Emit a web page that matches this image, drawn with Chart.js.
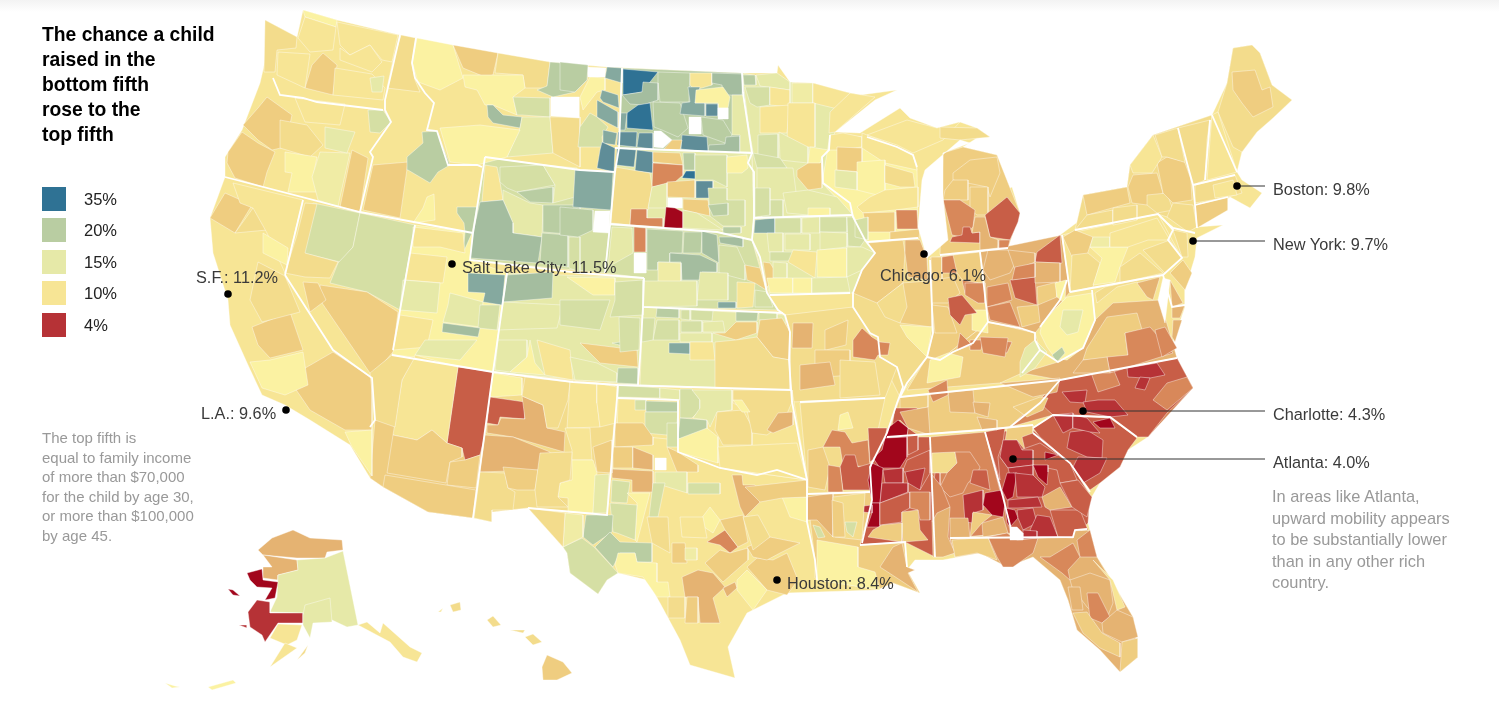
<!DOCTYPE html>
<html>
<head>
<meta charset="utf-8">
<title>The chance a child raised in the bottom fifth rose to the top fifth</title>
<script src="https://cdn.jsdelivr.net/npm/chart.js@4"></script>
<style>
html, body { margin: 0; padding: 0; background: #fff; }
#page { position: relative; width: 1499px; height: 728px; overflow: hidden; font-family: "Liberation Sans", Arial, sans-serif; }
#topband { position: absolute; left: 0; top: 0; width: 100%; height: 12px; background: linear-gradient(#f3f3f3, #fff); }
canvas { position: absolute; left: 0; top: 0; }
#title { position: absolute; left: 42px; top: 22px; font-weight: bold; font-size: 19.3px; line-height: 25px; color: #000; white-space: pre; }
.swatch { position: absolute; left: 42px; width: 24px; height: 24px; }
.legendLabel { position: absolute; left: 84px; font-size: 16.5px; color: #222; line-height: 24px; }
.city { position: absolute; font-size: 16.3px; color: #3a3a3a; line-height: 20px; white-space: pre; }
.note { position: absolute; color: #999; white-space: pre; }
#noteLeft { left: 42px; top: 428px; font-size: 15px; line-height: 19.6px; }
#noteRight { left: 1272px; top: 486px; font-size: 16.4px; line-height: 21.5px; }
</style>
</head>
<body>
<div id="page">
<div id="topband"></div>
<canvas id="map" width="1499" height="728"></canvas>
<div id="title">The chance a child
raised in the
bottom fifth
rose to the
top fifth</div>
<div id="noteLeft" class="note">The top fifth is
equal to family income
of more than $70,000
for the child by age 30,
or more than $100,000
by age 45.</div>
<div id="noteRight" class="note">In areas like Atlanta,
upward mobility appears
to be substantially lower
than in any other rich
country.</div>
</div>
<script>
// legend
var legendLevels = [35, 20, 15, 10, 4];
var legendTops = [187, 218, 250, 281, 313];

// cities: name, value, dot position, label position
var cityNames = ['Boston', 'New York', 'Charlotte', 'Atlanta', 'Houston', 'Chicago', 'Salt Lake City', 'S.F.', 'L.A.'];
var cityValues = ['9.8', '9.7', '4.3', '4.0', '8.4', '6.1', '11.5', '11.2', '9.6'];
var cityX = [1237, 1193, 1083, 1013, 777, 924, 452, 228, 286];
var cityY = [186, 241, 411, 459, 580, 254, 264, 294, 410];
var labelX = [1273, 1273, 1273, 1273, 787, 880, 462, 196, 201];
var labelY = [193, 248, 418, 466, 587, 279, 271, 281, 417];
var leaderEnd = [1265, 1265, 1265, 1265, null, null, null, null, null];

// estimated percent -> colour, 0 is no data
var levels = [0, 3, 4, 5, 6, 7, 8, 9, 10, 12, 13, 15, 17, 20, 22, 25, 28, 35];
var levelColors = ['#ffffff', '#a2061c', '#b63236', '#c85e47', '#d8885a', '#e5b372', '#efcd80', '#f3dc8c', '#f7e595',
    '#fbf2a2', '#f0eca5', '#e6e9a8', '#d5dfa4', '#b9cda2', '#a4bd9f', '#85a99f', '#5f8d98', '#2f7294'];

// outline of the lower 48
var land = [10, '303,10 337,20 400,35 453,47 550,62 607,67 740,73 777,73 778,65 790,82 813,83 837,90 860,95 897,90 875,100 835,132 860,133 900,108 910,118 937,128 960,122 977,128 990,137 977,138 963,147 997,155 1000,173 990,197 1012,187 1020,213 1012,230 1008,247 1023,253 1037,252 1060,235 1087,215 1083,195 1127,187 1130,165 1153,135 1212,115 1227,83 1233,48 1252,45 1260,53 1272,85 1292,100 1273,118 1257,132 1242,152 1237,172 1242,180 1262,193 1250,208 1230,197 1197,227 1223,225 1197,238 1195,257 1185,290 1185,307 1173,342 1177,360 1193,388 1167,413 1148,437 1128,450 1120,467 1100,483 1090,500 1088,523 1097,557 1110,577 1133,617 1138,657 1120,672 1100,650 1077,630 1068,600 1060,580 1033,557 1007,567 980,553 943,560 915,560 907,570 920,593 893,583 877,590 787,593 747,613 728,647 735,678 690,665 680,640 660,603 647,580 618,573 607,580 598,594 570,573 567,553 563,547 528,508 492,512 492,522 473,518 428,512 383,487 370,478 350,445 310,420 285,405 262,395 248,365 230,325 228,300 213,253 210,218 225,177 225,157 242,130 260,83 263,70 267,50 265,20 297,37'];

// state sized underlays so the zones sit on the right tone
var baseZones = [
    [20, '622,68 742,73 752,153 618,148'],
    [15, '618,148 752,153 754,217 752,240 717,232 610,224 615,172'],
    [17, '610,225 717,232 752,240 767,293 778,310 643,307 644,278 605,273'],
    [15, '643,307 785,315 790,332 792,390 640,385'],
    [17, '485,157 580,170 615,172 605,273 470,260'],
    [15, '507,273 644,278 640,358 638,385 493,372'],
    [15, '742,73 860,95 835,132 829,150 822,183 853,215 754,217 752,153'],
    [15, '754,217 853,215 875,253 853,293 770,295 752,240'],
    [12, '830,135 867,137 917,167 918,238 867,242 853,215 822,183'],
    [9, '867,242 918,238 927,258 933,333 927,357 900,397 880,357 853,307 853,293 875,253'],
    [8, '943,153 963,147 997,155 1020,213 1008,248 940,255'],
    [8, '930,258 980,252 988,322 940,360 927,357 933,333'],
    [7, '980,252 1062,235 1070,292 1040,327 1035,333 988,322'],
    [8, '927,357 940,360 988,322 1035,333 1040,350 1022,373 1000,383 907,390'],
    [8, '900,397 1060,380 1010,427 887,437'],
    [6, '1060,380 1177,358 1193,388 1148,437 1110,417 1053,415 1010,427'],
    [7, '1022,373 1058,362 1083,348 1095,320 1113,303 1160,300 1177,358 1060,380'],
    [5, '887,437 930,437 935,557 905,542 860,545 872,500 870,467'],
    [6, '930,437 985,432 1012,533 950,538 955,553 935,557'],
    [5, '985,432 1033,430 1070,463 1090,495 1088,523 1075,537 1012,538'],
    [7, '950,538 1088,530 1097,557 1133,617 1138,657 1120,672 1100,650 1077,630 1068,600 1060,580 1033,557 1007,567 980,553 955,557'],
    [9, '800,403 885,398 870,467 870,492 807,494 807,480'],
    [8, '807,494 870,492 872,500 860,545 905,542 907,570 920,593 893,583 877,590 815,578 815,560'],
    [9, '785,315 853,307 870,333 880,357 897,367 885,398 792,402'],
    [10, '618,385 792,390 807,480 720,468 678,452 678,400 618,397'],
    [9, '1083,195 1127,187 1130,165 1153,135 1212,115 1197,227 1158,214 1075,230'],
    [10, '1062,235 1158,214 1182,258 1163,275 1070,292'],
    [9, '493,372 617,385 607,515 528,508 492,512 473,518'],
    [8, '392,355 493,372 473,518 428,512 383,487 370,478 375,420'],
    [12, '415,225 473,233 470,260 507,273 493,372 392,355']
];

var westZones = [
    [12, '303,10 337,20 336,27 305,17'],
    [9, '265,20 297,37 296,48 277,50 275,72 264,72'],
    [10, '305,17 336,27 333,50 310,52 298,38'],
    [10, '337,22 398,35 392,62 382,60 370,45 350,55 340,45'],
    [10, '340,48 350,55 370,45 382,62 372,72 340,60'],
    [8, '323,53 337,65 333,95 305,88 312,65'],
    [10, '278,52 310,54 305,88 277,75'],
    [10, '335,68 372,74 385,88 383,100 333,95'],
    [15, '370,78 384,76 382,92 372,92'],
    [8, '267,97 292,115 285,147 272,150 258,140 243,125 258,108'],
    [8, '242,132 258,143 275,152 267,172 263,187 235,178 227,163 228,152'],
    [9, '280,120 307,125 323,145 310,157 280,148'],
    [10, '295,98 345,104 340,125 305,122'],
    [12, '285,152 317,157 313,177 320,192 288,192 292,173 285,172'],
    [13, '320,152 350,153 340,197 338,207 318,200 312,177'],
    [15, '325,127 355,132 347,153 325,148'],
    [8, '352,150 368,158 360,212 340,207'],
    [17, '368,110 383,110 391,122 380,133 370,132'],
    [9, '401,35 416,38 412,63 415,80 420,92 387,88 393,60'],
    [8, '373,165 408,162 400,218 363,210'],
    [20, '422,132 437,131 450,165 438,172 430,183 408,170 407,157 423,143'],
    [12, '427,197 434,194 435,220 413,223 423,208'],
    [12, '417,38 453,45 463,78 440,90 418,82 412,62'],
    [8, '453,45 498,53 493,75 485,77 463,68'],
    [9, '498,53 550,62 547,88 525,88 523,75 495,73'],
    [20, '550,62 588,65 587,80 575,92 553,97 537,90 547,86'],
    [12, '463,75 523,75 525,88 513,97 517,115 493,105 485,105 477,90 465,87'],
    [22, '487,105 493,105 503,115 522,117 520,128 493,123 488,117'],
    [17, '513,97 550,98 550,117 522,115 517,115'],
    [15, '522,117 550,117 553,153 507,157 520,128'],
    [12, '440,128 480,125 520,130 507,157 477,165 450,162'],
    [9, '550,117 580,117 580,167 553,153'],
    [0, '551,97 579,97 579,118 551,116'],
    [0, '587,67 606,68 605,77 588,77'],
    [10, '485,165 497,167 500,182 503,200 482,202'],
    [17, '500,167 543,165 555,185 517,192 507,188 500,182'],
    [20, '517,192 553,187 553,203 530,202'],
    [15, '543,165 577,168 575,197 553,203 555,185'],
    [15, '503,190 530,203 543,205 542,237 513,233 513,223 503,200'],
    [22, '480,202 503,200 513,223 513,233 542,237 538,263 470,258 473,233'],
    [20, '543,205 580,205 580,235 543,232'],
    [20, '542,233 568,235 568,267 540,263'],
    [17, '569,237 580,237 580,272 569,268'],
    [20, '457,207 477,207 472,233 463,253 465,233 464,223 457,213'],
    [17, '313,203 360,213 353,247 340,262 303,253 308,235'],
    [17, '360,213 415,225 400,310 367,292 330,283 338,263 353,247'],
    [9, '305,203 317,204 305,253 338,262 330,278 305,277 285,273 297,235'],
    [8, '320,285 367,292 398,312 393,352 372,376 335,322 320,300'],
    [8, '303,282 318,283 326,300 310,312'],
    [8, '225,193 252,205 235,233 210,218'],
    [9, '253,208 273,210 267,230 235,233'],
    [10, '233,183 303,200 285,273 267,233 253,208 240,203'],
    [12, '263,233 288,248 287,265 263,253'],
    [8, '252,327 290,312 303,350 270,358 258,345'],
    [9, '258,262 285,276 300,312 262,322 250,300'],
    [8, '288,378 333,352 372,378 372,430 345,430 310,410'],
    [12, '345,432 372,430 372,476 352,447'],
    [12, '250,362 270,360 303,352 308,385 285,395 262,388'],
    [10, '413,227 463,233 465,253 440,247 413,247'],
    [10, '410,253 447,257 443,283 405,280'],
    [15, '450,293 483,302 480,327 443,322 448,305'],
    [15, '403,280 440,283 437,313 400,310'],
    [10, '400,315 433,320 427,347 393,350'],
    [25, '468,273 505,275 502,305 483,302 485,293 468,292'],
    [22, '507,275 553,272 552,298 503,302'],
    [15, '503,302 563,305 557,328 497,330'],
    [17, '480,305 500,305 497,330 478,328'],
    [22, '443,323 480,328 478,337 442,332'],
    [15, '425,340 477,340 460,360 415,355'],
    [15, '498,340 527,340 527,357 510,372 495,370'],
    [12, '530,340 535,363 545,375 510,372 527,357'],
    [10, '537,340 570,350 573,380 545,375'],
    [8, '580,343 637,350 638,367 600,363'],
    [15, '570,357 597,363 617,373 617,382 575,380'],
    [20, '618,368 638,368 638,384 617,383'],
    [20, '612,343 638,340 638,350'],
    [12, '567,277 615,278 615,295 593,295 590,293'],
    [17, '615,282 643,280 643,315 610,317 615,300'],
    [17, '560,300 610,300 600,330 560,325']
];

var plainsZones = [
    [12, '590,77 605,78 605,90 597,92 583,110 580,97'],
    [20, '560,62 588,65 587,80 575,92 560,90'],
    [25, '607,67 622,68 622,83 605,78'],
    [35, '623,69 658,72 650,82 642,92 623,95'],
    [20, '658,72 690,73 689,102 660,102 658,83'],
    [10, '690,73 712,73 712,85 695,90 690,85'],
    [22, '712,73 743,74 742,95 723,95 722,85 712,83'],
    [22, '622,95 642,92 643,82 658,83 658,100 643,105 630,104'],
    [25, '602,90 618,95 619,108 603,102 600,98'],
    [25, '597,100 618,112 618,128 608,123 597,117'],
    [17, '590,113 597,117 608,127 602,137 603,147 578,147 580,127'],
    [35, '627,113 638,105 650,103 653,130 627,128'],
    [25, '620,113 627,113 625,130 619,130'],
    [28, '618,132 637,132 636,147 617,145'],
    [28, '639,133 653,133 653,149 637,147'],
    [25, '603,130 617,133 615,145 603,143'],
    [28, '602,142 615,148 614,172 597,168 600,150'],
    [28, '617,148 636,150 634,167 616,165'],
    [28, '637,150 653,152 653,173 635,171'],
    [20, '653,102 680,103 688,128 678,137 662,130 654,127'],
    [25, '688,87 700,87 695,103 705,103 705,116 680,114 682,103 690,102'],
    [12, '696,90 723,87 730,97 728,108 718,108 718,103 695,103'],
    [28, '706,104 718,104 718,116 706,116'],
    [0, '718,108 728,108 728,119 718,119'],
    [0, '689,117 701,117 701,134 689,134'],
    [20, '701,117 723,120 732,135 725,143 703,135'],
    [22, '726,137 740,136 740,153 708,152 709,145 725,144'],
    [15, '732,95 743,95 753,152 740,152 740,135 732,135'],
    [28, '682,135 707,137 708,152 681,149'],
    [0, '654,131 661,131 672,140 663,148 654,147'],
    [8, '672,140 682,140 680,150 663,150'],
    [8, '653,152 680,153 683,165 653,162'],
    [6, '653,163 683,165 683,175 675,182 652,187'],
    [35, '686,171 697,171 697,179 682,178'],
    [20, '683,153 695,153 695,170 684,170'],
    [17, '695,155 727,155 727,187 713,180 695,180'],
    [28, '696,181 713,181 713,198 696,198'],
    [12, '727,157 747,155 748,168 742,173 727,173'],
    [8, '667,182 695,180 695,198 667,197'],
    [9, '615,167 650,173 652,187 648,210 631,210 630,225 611,223'],
    [15, '652,187 667,183 667,208 648,208'],
    [0, '668,198 682,198 682,208 668,208'],
    [6, '631,209 647,209 647,218 663,218 663,227 630,225'],
    [3, '666,207 675,208 683,212 683,228 664,228'],
    [8, '683,199 708,200 710,216 697,213 683,210'],
    [15, '683,210 697,213 723,230 683,228'],
    [17, '708,188 727,188 727,200 745,200 745,226 723,226 710,216'],
    [20, '708,205 728,203 728,215 713,216'],
    [25, '575,170 613,172 611,210 573,207'],
    [20, '560,207 593,210 593,230 578,237 560,235'],
    [0, '595,211 610,211 609,233 593,232'],
    [15, '612,227 632,228 633,253 608,267'],
    [6, '634,227 646,228 646,252 634,252'],
    [0, '634,253 646,253 646,273 634,273'],
    [20, '647,229 683,231 682,253 670,253 670,262 658,262 658,270 647,270'],
    [20, '684,232 702,232 701,253 683,253'],
    [22, '702,231 717,235 719,263 702,253'],
    [22, '670,253 700,255 717,263 717,272 702,272 700,280 682,280 681,262 670,262'],
    [22, '719,237 743,237 743,247 720,243'],
    [20, '723,227 741,227 741,233 723,234'],
    [17, '719,245 737,247 745,265 745,280 719,273'],
    [13, '658,262 681,263 681,283 658,288'],
    [15, '700,272 728,273 728,300 697,300'],
    [10, '737,282 755,283 753,307 737,308'],
    [8, '745,265 760,268 766,290 755,283 747,280'],
    [8, '763,262 770,263 779,277 767,287'],
    [25, '718,302 736,302 736,308 718,308'],
    [17, '755,290 768,292 773,307 755,307'],
    [15, '643,281 697,281 697,306 643,307'],
    [20, '657,308 679,309 679,318 656,317'],
    [17, '657,320 679,320 679,340 653,340'],
    [17, '681,310 690,310 690,320 681,319'],
    [17, '691,310 713,311 712,321 691,320'],
    [17, '681,321 702,321 702,332 681,332'],
    [15, '703,322 723,321 725,332 703,332'],
    [15, '680,333 712,333 712,342 680,342'],
    [20, '736,312 758,312 757,321 736,321'],
    [17, '759,312 777,312 777,320 759,320'],
    [25, '669,343 690,343 690,354 669,353'],
    [17, '619,317 640,318 639,350 620,352'],
    [17, '642,318 655,318 653,340 642,342'],
    [10, '690,342 713,342 715,360 690,360'],
    [8, '736,322 757,322 757,333 736,340 713,333 725,333'],
    [8, '760,320 782,318 790,332 790,360 773,357 757,337'],
    [9, '715,342 736,340 757,337 773,357 790,360 790,390 715,388'],
    [7, '793,323 813,323 812,348 792,348'],
    [8, '825,330 848,320 846,345 826,350'],
    [8, '815,350 850,350 850,375 815,378'],
    [6, '853,340 862,328 872,337 880,342 890,343 888,355 878,355 875,360 853,357']
];

var midwestZones = [
    [20, '743,75 755,75 756,85 744,85'],
    [15, '756,75 777,73 790,82 790,90 760,86'],
    [17, '745,87 770,87 770,105 757,107 750,103'],
    [10, '770,87 790,90 790,107 770,105'],
    [10, '760,107 790,105 787,133 760,133'],
    [13, '792,83 813,83 813,103 792,103'],
    [10, '813,83 850,93 850,112 813,103'],
    [10, '850,93 875,97 835,132 829,133 830,112'],
    [10, '788,103 815,103 815,147 787,147'],
    [17, '758,135 778,134 778,163 758,163'],
    [15, '779,132 808,147 808,163 780,160'],
    [17, '753,153 780,158 787,168 757,168'],
    [15, '757,168 793,168 797,200 757,200'],
    [17, '762,200 783,200 783,217 762,217'],
    [17, '755,188 770,188 770,215 755,217'],
    [8, '797,170 813,160 822,163 822,188 808,190 797,177'],
    [12, '810,147 829,150 822,157 820,163 808,163'],
    [15, '783,193 808,190 837,197 853,215 808,215 787,213'],
    [12, '808,208 830,208 830,216 808,216'],
    [25, '755,220 775,218 775,233 754,233'],
    [17, '775,218 801,218 801,233 775,233'],
    [15, '802,218 820,217 820,233 802,233'],
    [17, '820,217 847,217 847,232 820,232'],
    [17, '847,217 853,217 865,240 860,247 848,246'],
    [15, '767,233 783,233 783,252 769,252'],
    [17, '770,252 798,252 798,261 770,261'],
    [15, '785,234 810,234 810,250 785,250'],
    [15, '820,232 847,233 847,247 820,250'],
    [15, '773,262 787,263 787,278 773,278'],
    [12, '767,278 793,278 793,293 770,293'],
    [10, '793,250 817,252 815,278 788,262'],
    [12, '793,278 812,278 812,293 793,293'],
    [15, '812,278 847,277 850,292 812,293'],
    [12, '817,250 847,248 847,277 817,277'],
    [15, '847,247 862,247 875,253 862,270 847,277'],
    [10, '830,135 843,133 862,137 862,147 837,150 829,150'],
    [8, '837,147 862,148 862,172 837,170'],
    [10, '862,133 897,147 913,155 917,170 885,163 862,148'],
    [12, '857,162 885,160 885,197 857,190'],
    [15, '835,170 857,172 857,190 835,187'],
    [9, '885,165 913,173 915,187 900,187 885,183'],
    [10, '885,190 918,187 918,207 895,210 863,213 857,207 870,197'],
    [6, '896,210 917,210 918,229 897,229'],
    [8, '863,213 895,212 895,232 868,232'],
    [8, '890,232 920,229 919,238 890,240'],
    [17, '855,220 868,217 868,240 855,237'],
    [10, '867,135 907,120 937,128 960,122 943,140 913,153 897,145'],
    [9, '940,127 977,128 990,137 960,140 940,138'],
    [8, '867,243 903,240 905,253 903,283 877,303 853,293 862,270 875,253'],
    [7, '905,240 920,240 927,258 928,280 908,277 905,253'],
    [8, '902,283 928,281 932,280 932,327 900,323'],
    [9, '877,303 903,283 907,307 900,323 885,317'],
    [12, '900,325 932,327 927,357 907,337'],
    [8, '931,257 942,257 942,280 932,280'],
    [6, '942,257 955,255 957,273 942,273'],
    [8, '932,280 953,277 960,293 948,303 932,303'],
    [8, '932,305 948,307 957,333 935,333'],
    [8, '953,255 980,252 985,283 965,283 957,273'],
    [6, '962,280 978,283 978,303 965,293'],
    [12, '972,310 987,310 988,333 972,330'],
    [5, '948,298 962,295 977,313 965,315 960,325 950,315'],
    [8, '953,173 970,160 997,157 1000,173 990,197 987,187 953,180'],
    [8, '953,180 968,180 968,200 943,200 945,190'],
    [8, '970,187 988,187 988,215 977,215 970,210'],
    [6, '943,200 960,200 975,210 973,227 962,237 952,235'],
    [5, '985,215 1007,197 1020,213 1018,222 1010,240 990,237'],
    [5, '963,227 970,227 972,233 980,232 980,243 950,242 952,237 962,235'],
    [7, '975,217 985,217 990,237 999,240 998,248 980,250 980,232 972,233'],
    [6, '999,240 1010,240 1008,248 998,248'],
    [5, '1037,252 1060,235 1062,263 1035,262'],
    [7, '988,250 1008,250 1017,260 1010,273 990,280 983,270'],
    [7, '1008,250 1035,253 1035,262 1015,270'],
    [5, '1010,280 1035,277 1037,305 1015,298'],
    [6, '987,287 1008,283 1012,300 987,307'],
    [7, '1035,262 1060,263 1060,282 1035,283'],
    [6, '1015,267 1035,263 1035,277 1012,280'],
    [6, '987,307 1010,302 1020,327 990,320'],
    [8, '1037,287 1057,282 1057,297 1038,305'],
    [8, '1017,307 1038,305 1040,322 1022,327'],
    [12, '1055,283 1066,280 1065,303 1057,297'],
    [6, '965,283 985,283 985,303 978,303 965,295'],
    [7, '800,365 830,362 835,385 800,390'],
    [9, '840,360 875,362 880,395 840,398']
];

var southZones = [
    [5, '1033,428 1053,415 1110,418 1137,438 1128,450 1120,467 1100,483 1090,490 1070,463 1040,437'],
    [5, '1060,380 1177,358 1193,388 1167,413 1148,437 1137,437 1110,417 1053,415 1040,403'],
    [8, '900,397 928,395 928,407 900,412'],
    [12, '840,415 848,412 853,428 838,430'],
    [7, '807,497 833,493 833,537 817,520 807,520'],
    [8, '808,450 823,447 830,467 825,490 808,487'],
    [6, '823,447 832,430 845,432 852,443 868,440 870,467 843,465 840,447'],
    [5, '845,455 855,455 858,467 872,463 870,490 843,490 840,467'],
    [6, '828,465 840,467 843,492 828,492'],
    [5, '868,428 887,428 882,453 870,462'],
    [5, '895,408 917,408 923,423 908,428 900,420 892,427'],
    [5, '908,428 918,435 918,450 908,455 907,437'],
    [5, '907,460 930,450 930,473 920,490 903,470'],
    [4, '905,472 925,468 920,490 908,483'],
    [3, '888,428 898,420 908,428 907,437 885,438'],
    [3, '885,438 907,437 907,457 900,468 880,468 873,458 882,450'],
    [3, '872,463 883,468 880,503 872,503 868,480'],
    [3, '872,503 880,503 880,527 867,527 872,513'],
    [4, '863,506 872,505 872,513 863,512'],
    [4, '883,470 903,468 903,483 885,483'],
    [4, '882,483 908,483 908,492 880,503'],
    [5, '880,503 910,492 910,508 902,512 902,522 880,525'],
    [6, '910,492 930,492 930,520 920,520 918,510 910,508'],
    [8, '902,512 918,510 920,530 928,540 903,542 902,532'],
    [8, '882,525 902,523 902,542 868,537 873,530'],
    [9, '932,453 955,452 957,463 947,473 932,473'],
    [5, '935,473 940,473 940,487 933,488'],
    [6, '955,452 970,452 980,467 978,472 968,483 963,493 950,497 940,487 947,473 957,463'],
    [5, '973,470 987,470 990,490 970,483'],
    [6, '932,475 942,487 950,507 932,522'],
    [4, '963,495 983,490 983,510 973,513 973,523 965,522'],
    [3, '985,493 1002,490 1005,503 1003,517 992,515 983,505'],
    [8, '973,512 992,515 982,523 970,537'],
    [7, '982,523 1003,517 1008,533 983,537'],
    [7, '950,518 968,518 970,538 950,538'],
    [7, '937,513 950,507 948,537 955,553 943,557 933,557 932,522'],
    [8, '952,540 988,537 992,548 997,560 977,553 955,557'],
    [6, '988,537 1007,533 1017,540 1038,538 1033,553 1013,567 1003,567 997,557'],
    [5, '985,432 1005,428 1003,442 998,457 1000,480'],
    [8, '1007,428 1033,425 1033,433 1022,437 1025,450 1017,440 1005,442'],
    [5, '1000,457 1040,443 1070,463 1077,480 1060,483 1057,470 1033,465 1008,468'],
    [4, '1003,440 1017,440 1022,450 1033,450 1033,465 1008,468 1000,457'],
    [4, '1008,468 1033,465 1033,477 1013,473 1013,487'],
    [3, '1033,465 1048,465 1048,472 1047,485 1038,477'],
    [3, '1045,452 1058,455 1045,460'],
    [3, '1007,473 1017,473 1013,497 1007,500 1002,490'],
    [4, '1015,473 1033,475 1045,487 1042,497 1017,497'],
    [4, '1008,500 1038,497 1042,507 1017,508 1008,508'],
    [3, '1005,508 1015,510 1018,518 1010,527 1007,523'],
    [4, '1017,510 1033,508 1037,523 1023,530 1018,518'],
    [4, '1037,515 1050,517 1058,537 1038,538 1030,530'],
    [4, '1023,530 1037,531 1037,538 1023,539'],
    [0, '1010,527 1017,527 1023,533 1023,540 1010,540'],
    [5, '1050,510 1080,510 1088,530 1075,530 1073,538 1058,537'],
    [7, '1042,497 1060,487 1072,507 1050,510 1045,507'],
    [5, '1060,483 1078,480 1092,497 1087,517 1072,507'],
    [4, '1067,448 1070,432 1087,430 1103,440 1102,458 1087,457'],
    [4, '1053,415 1073,413 1073,428 1063,433 1057,422'],
    [3, '1093,422 1110,418 1115,428 1100,428'],
    [4, '1073,415 1087,418 1093,425 1100,433 1090,432 1073,428'],
    [4, '1078,457 1107,458 1100,473 1083,483 1073,467'],
    [6, '1077,540 1090,530 1097,557 1080,557'],
    [6, '1050,557 1073,543 1080,557 1068,570 1070,580 1062,573 1040,557'],
    [7, '1070,580 1090,573 1110,580 1113,603 1105,623 1087,607 1072,587'],
    [6, '1087,593 1098,593 1110,617 1102,623 1090,618'],
    [7, '1102,623 1117,610 1133,617 1138,637 1122,642 1103,633'],
    [8, '1073,613 1087,612 1102,633 1120,643 1120,657 1100,648 1083,633'],
    [8, '1122,642 1138,638 1138,657 1120,672'],
    [10, '1093,560 1113,580 1125,607 1117,610 1110,580'],
    [7, '1068,587 1080,587 1083,610 1072,610'],
    [4, '1062,392 1087,390 1085,403 1070,402'],
    [4, '1083,402 1098,400 1115,400 1128,415 1110,417 1087,412'],
    [4, '1127,368 1157,363 1165,375 1150,378 1143,378 1128,377'],
    [4, '1140,377 1150,378 1145,390 1135,388'],
    [6, '1167,383 1187,377 1193,388 1167,410 1153,400'],
    [6, '1090,370 1112,366 1120,385 1098,392'],
    [7, '948,392 973,390 975,413 950,412'],
    [7, '973,402 990,403 988,417 975,413'],
    [6, '928,390 947,380 948,395 933,402'],
    [7, '977,417 997,420 997,430 982,430'],
    [8, '1013,407 1040,397 1048,398 1043,410 1027,417'],
    [7, '1000,383 1060,378 1057,392 1033,397'],
    [7, '900,412 928,407 930,435 908,428'],
    [7, '893,547 902,543 907,567 915,570 908,573 918,592 900,580 880,567'],
    [9, '833,497 865,493 862,540 835,537'],
    [8, '832,500 843,503 845,537 833,537'],
    [17, '845,522 857,522 853,537 847,532'],
    [17, '813,525 820,527 825,537 818,538'],
    [12, '817,540 858,547 858,567 875,572 880,590 817,580'],
    [12, '930,360 948,353 963,357 960,377 927,383'],
    [6, '970,340 983,340 981,350 970,350'],
    [6, '993,340 1012,342 1007,353 995,350'],
    [6, '980,337 1008,338 1005,357 983,353'],
    [6, '960,333 972,345 957,350']
];

var eastZones = [
    [8, '1087,348 1107,317 1137,313 1143,333 1125,333 1128,357 1083,360'],
    [6, '1125,333 1150,327 1173,353 1110,373 1107,357 1128,355'],
    [6, '1155,330 1165,327 1177,348 1162,357'],
    [7, '1083,360 1107,357 1110,373 1073,373'],
    [12, '1042,323 1057,307 1067,297 1092,293 1095,320 1083,348 1067,360 1055,358 1047,347 1040,333'],
    [15, '1063,310 1083,310 1078,332 1067,335 1060,327'],
    [20, '1052,355 1062,347 1065,353 1057,362'],
    [15, '1025,348 1035,340 1047,352 1035,368 1020,377 1020,362'],
    [8, '1075,230 1093,237 1087,255 1072,257 1063,237'],
    [9, '1072,255 1088,253 1100,263 1093,287 1070,292'],
    [12, '1090,247 1128,247 1120,267 1115,282 1093,285 1102,258'],
    [13, '1093,237 1110,237 1110,247 1090,247'],
    [10, '1110,233 1157,218 1170,240 1148,240 1128,247 1110,247'],
    [9, '1120,267 1140,253 1163,273 1120,283'],
    [9, '1143,250 1170,240 1182,258 1165,273'],
    [8, '1083,195 1127,187 1130,203 1087,215'],
    [9, '1087,215 1113,210 1113,223 1075,230'],
    [9, '1113,208 1137,205 1137,220 1113,225'],
    [8, '1128,187 1133,175 1157,173 1163,193 1147,205 1132,203'],
    [9, '1147,195 1167,193 1173,210 1157,213 1147,205'],
    [8, '1157,163 1167,157 1190,163 1192,200 1173,203 1163,193'],
    [10, '1130,165 1153,135 1162,157 1152,173 1133,173'],
    [9, '1155,135 1178,128 1187,163 1167,157 1162,157'],
    [9, '1193,205 1173,203 1167,217 1188,232 1197,227'],
    [9, '1173,230 1187,233 1188,257 1182,257'],
    [8, '1170,273 1183,260 1192,273 1185,290'],
    [8, '1195,205 1228,197 1228,210 1197,228'],
    [9, '1195,185 1235,175 1242,193 1228,197 1195,203'],
    [10, '1213,185 1233,180 1237,195 1215,198'],
    [9, '1227,83 1233,48 1252,45 1260,53 1272,85 1292,100 1273,118 1257,132 1242,152 1233,147 1218,112'],
    [8, '1232,72 1255,70 1262,90 1270,87 1273,107 1253,117 1242,103 1233,90'],
    [9, '1178,128 1210,120 1207,140 1205,180 1193,185 1185,163'],
    [10, '1212,115 1218,112 1237,172 1207,180 1210,140'],
    [9, '1105,287 1160,275 1153,297 1137,282 1117,287 1097,303 1095,293'],
    [7, '1137,283 1160,277 1153,300 1147,297'],
    [7, '1170,280 1183,303 1172,307'],
    [7, '1172,307 1185,305 1180,318 1172,318'],
    [7, '1173,320 1182,320 1175,342 1172,337']
];

var texasZones = [
    [10, '618,398 678,400 678,440 647,437 617,440'],
    [17, '635,400 646,400 646,410 635,410'],
    [20, '646,401 678,402 678,412 646,412'],
    [17, '645,412 678,412 677,423 667,435 645,433'],
    [17, '667,423 678,423 678,447 667,447'],
    [17, '618,385 660,388 660,398 618,397'],
    [15, '660,388 680,390 680,400 660,398'],
    [17, '680,389 692,389 700,400 700,410 692,418 680,418'],
    [20, '680,418 707,420 707,438 678,439'],
    [15, '692,390 732,390 732,410 717,412 710,427 707,420 693,418 700,408 700,400'],
    [12, '678,439 707,428 718,437 718,463 678,452'],
    [9, '717,412 743,410 752,427 752,445 723,445 715,430'],
    [9, '733,390 792,390 792,402 783,423 767,435 752,433 747,410 733,403'],
    [12, '733,400 742,400 750,412 742,412'],
    [7, '767,430 778,413 793,412 793,425 773,433'],
    [10, '718,447 797,443 807,480 720,468'],
    [8, '615,423 643,423 653,437 653,445 615,447'],
    [8, '613,447 633,447 633,468 613,468'],
    [7, '633,447 653,455 653,470 633,468'],
    [7, '612,469 653,471 653,492 632,492 632,480 612,478'],
    [0, '655,458 666,458 666,470 655,470'],
    [8, '667,447 678,452 698,465 698,472 677,472'],
    [15, '655,472 687,472 687,493 655,483'],
    [17, '688,483 720,483 720,494 688,494'],
    [17, '653,483 665,483 658,517 649,517'],
    [7, '732,475 742,475 743,485 755,485 760,502 745,517 740,507 737,495'],
    [17, '612,480 630,482 627,503 611,502'],
    [12, '627,493 650,493 637,542 635,540 637,503'],
    [17, '610,503 637,505 635,540 617,533 613,532'],
    [20, '586,515 613,515 612,532 593,545 583,537'],
    [20, '610,532 620,542 652,543 652,562 637,562 635,553 620,553 613,567 595,547'],
    [17, '582,538 594,547 618,573 607,580 598,594 570,573 567,553 563,547'],
    [12, '618,553 635,553 637,562 657,563 657,582 668,582 670,597 657,597 643,577 618,573 615,565'],
    [13, '565,513 583,515 583,537 563,547'],
    [9, '528,508 565,513 563,547'],
    [9, '647,517 668,517 670,553 652,543'],
    [7, '682,577 698,570 713,573 725,587 713,598 720,623 700,623 698,597 685,597'],
    [7, '723,588 735,582 737,588 727,597'],
    [6, '707,542 725,530 738,547 730,553 720,545'],
    [8, '720,520 743,515 748,542 738,547 725,530'],
    [8, '705,563 720,550 730,553 748,548 748,560 723,582'],
    [8, '757,558 773,560 787,553 798,580 787,595 767,590 747,567'],
    [8, '747,547 770,537 800,543 780,553 767,560 753,557'],
    [9, '743,517 758,515 770,537 753,550'],
    [9, '668,597 685,597 685,618 668,618'],
    [8, '687,597 698,597 698,623 685,623'],
    [12, '710,507 720,520 713,533 698,523'],
    [10, '680,517 703,517 707,538 682,537'],
    [8, '672,543 685,543 687,563 672,563'],
    [13, '685,548 697,548 697,560 685,560'],
    [12, '737,580 747,570 767,590 753,610 737,590'],
    [12, '782,497 807,497 807,522 790,517'],
    [8, '745,487 807,480 807,497 782,498 760,502'],
    [12, '493,373 522,378 522,395 490,397'],
    [5, '458,367 493,372 485,435 480,455 465,460 462,448 447,443'],
    [5, '490,397 525,402 525,419 500,417 498,425 487,423'],
    [7, '522,396 543,405 547,428 565,432 564,452 540,445 513,437 487,433 487,425 498,425 501,418 525,419'],
    [7, '485,435 513,437 550,452 547,465 538,470 480,472'],
    [9, '525,377 570,382 568,400 558,428 547,428 543,405 522,396'],
    [10, '570,382 597,383 597,403 600,427 567,428'],
    [10, '565,428 590,428 592,460 572,460 572,450'],
    [12, '572,460 593,460 597,473 593,513 568,512 568,498 558,497 560,483 572,480'],
    [15, '595,475 609,474 607,513 593,513'],
    [10, '597,383 617,387 616,423 600,427 597,403'],
    [8, '593,447 612,440 612,473 597,472'],
    [9, '480,472 505,473 508,488 515,492 513,510 492,510 492,522 474,518'],
    [8, '503,467 538,470 535,490 517,490 508,488'],
    [9, '540,453 572,452 570,480 560,483 558,497 568,507 537,507 535,490'],
    [10, '415,355 458,367 447,443 432,430 417,440 393,435 402,380'],
    [8, '393,435 417,440 432,430 447,443 462,448 462,457 450,462 446,483 387,473'],
    [8, '450,462 465,460 480,455 476,488 447,485'],
    [8, '385,475 446,485 476,490 473,518 428,512 383,487'],
    [9, '392,355 415,357 402,380 395,427 375,420 370,373']
];

// Alaska and Hawaii
var offshoreZones = [
    [7, '258,550 272,538 293,530 310,538 342,540 343,550 327,552 325,558 297,558 263,555'],
    [7, '263,555 297,560 298,570 278,575 278,580 263,578 263,567 272,567'],
    [15, '297,560 325,558 343,551 358,625 347,627 332,620 303,613 270,612 277,597 278,575 298,570'],
    [3, '247,573 262,569 263,580 278,582 275,598 265,600 272,588 257,587 250,580'],
    [3, '228,589 233,590 240,596 233,595'],
    [4, '248,612 257,600 270,602 270,613 303,613 303,623 278,623 265,642 262,635 250,627'],
    [4, '239,625 247,625 247,628'],
    [10, '278,624 302,625 297,640 287,645 270,638'],
    [10, '285,643 270,667 297,648'],
    [15, '303,615 305,605 330,598 332,622 313,623 310,638 303,625'],
    [10, '358,625 367,622 380,633 383,623 410,647 422,653 417,662 403,657 390,642'],
    [9, '297,660 308,645 305,653'],
    [12, '165,683 175,686 180,687 172,688'],
    [12, '208,687 233,680 236,683 212,690'],
    [9, '450,605 460,602 461,610 453,612'],
    [10, '438,612 443,608 441,612'],
    [9, '487,620 493,616 501,625 493,627'],
    [9, '510,630 525,630 523,633'],
    [9, '525,637 533,634 542,642 533,645'],
    [8, '542,667 547,655 563,662 572,673 557,680 543,680']
];

// Great Lakes and bays cut back out of the land
var waterShapes = [
    '960,140 925,170 922,180 918,227 927,258 948,240 943,197 943,153 970,143',
    '1158,300 1165,323 1170,280 1163,278'
];

// white state borders
var stateLines = [
    '400,35 385,100 385,110 391,122 370,152 373,157 360,212',
    '416,38 412,63 415,78 425,93 434,103 427,130 437,131 448,165 477,165 482,167',
    '485,157 580,170 615,172',
    '485,157 473,233 470,260 580,273 644,278',
    '273,78 280,95 303,98 317,102 383,110',
    '225,177 360,212 473,233',
    '415,225 393,350',
    '285,275 333,350 372,378 375,420 370,427',
    '303,200 285,275',
    '507,273 493,372 473,518',
    '392,355 493,372 573,382 618,385 792,390',
    '618,385 617,398 607,515 528,508',
    '644,278 643,307 783,313',
    '643,307 640,358 638,385',
    '617,398 678,400 678,452 720,468 757,475 777,470 807,480 807,522 815,560 817,580',
    '753,153 615,148',
    '622,68 619,148 615,172 610,225 605,273',
    '610,224 717,232 752,240',
    '742,73 743,93 752,153 748,163 754,172 754,217 752,240 760,257 767,293 778,310 785,315 790,332 789,360 792,402 807,480',
    '753,218 853,215',
    '770,295 850,293',
    '830,135 829,150 822,157 823,183 850,203 853,217 865,240 875,253 862,270 853,293 853,307 870,333 878,337 880,357 897,367 903,387 897,403 887,433 870,467 872,500 862,543',
    '867,242 918,238',
    '867,137 897,147 913,155 917,167',
    '930,260 933,333 927,357 907,383 900,397',
    '940,255 1008,248',
    '980,252 988,322',
    '988,322 973,343 953,352 940,360 927,357',
    '988,322 1020,328 1035,333 1035,340 1040,350 1022,373',
    '1062,235 1070,292',
    '1070,292 1163,275',
    '1075,230 1158,214 1167,223 1173,228 1195,233',
    '1167,223 1173,230 1168,240 1182,258 1163,275',
    '1092,290 1095,320 1083,348 1058,362 1040,350',
    '1163,275 1172,307 1185,305',
    '1067,280 1060,300 1040,327',
    '1178,128 1187,163 1193,185 1195,205 1197,228',
    '1193,185 1235,175',
    '1195,205 1228,197',
    '1212,115 1237,172',
    '1210,120 1205,180',
    '800,402 885,398',
    '900,397 1060,380 1177,358',
    '807,494 870,492',
    '860,545 905,542 907,567',
    '887,437 983,430 1033,425',
    '930,437 935,557',
    '985,432 1003,497 1012,533',
    '950,538 1073,537 1075,530 1087,529',
    '1033,433 1070,463 1090,492',
    '1033,428 1053,415 1110,417 1137,437',
    '1010,427 1040,403 1060,380'
];

function parseShape(text) {
    var points = text.split(' ').map(function (pair) {
        var parts = pair.split(',');
        return { x: +parts[0], y: +parts[1] };
    });
    return points;
}

function colorFor(pct) {
    return levelColors[levels.indexOf(pct)];
}

function zoneDataset(zone) {
    var points = parseShape(zone[1]);
    points.push(points[0]);
    return {
        data: points,
        showLine: true,
        fill: 'shape',
        backgroundColor: colorFor(zone[0]),
        borderColor: 'rgba(255,255,255,0.5)',
        borderWidth: 0.8,
        pointRadius: 0,
        tension: 0
    };
}

// painter's order, first in the list is drawn first
var layers = [];
layers.push(zoneDataset(land));
[baseZones, westZones, plainsZones, midwestZones, southZones, eastZones, texasZones, offshoreZones].forEach(function (group) {
    group.forEach(function (zone) {
        layers.push(zoneDataset(zone));
    });
});
waterShapes.forEach(function (shape) {
    layers.push(zoneDataset([0, shape]));
});
stateLines.forEach(function (line) {
    layers.push({ data: parseShape(line), showLine: true, fill: false, borderColor: '#fff', borderWidth: 1.8, pointRadius: 0, tension: 0 });
});
leaderEnd.forEach(function (end, i) {
    if (end === null) return;
    layers.push({
        data: [{ x: cityX[i], y: cityY[i] }, { x: end, y: cityY[i] }],
        showLine: true, fill: false, borderColor: '#333', borderWidth: 1, pointRadius: 0
    });
});
layers.push({
    data: cityX.map(function (x, i) { return { x: x, y: cityY[i] }; }),
    showLine: false, pointRadius: 3.8, pointBackgroundColor: '#000', pointBorderWidth: 0
});

// chart.js draws the first dataset on top, so hand them over reversed
var mapChart = new Chart(document.getElementById('map'), {
    type: 'scatter',
    data: { datasets: layers.reverse() },
    options: {
        responsive: false,
        animation: false,
        layout: { padding: 0, autoPadding: false },
        plugins: { legend: { display: false }, tooltip: { enabled: false } },
        scales: {
            x: { type: 'linear', min: 0, max: 1499, display: false },
            y: { type: 'linear', min: 0, max: 728, reverse: true, display: false }
        }
    }
});

// text on top of the chart
var page = document.getElementById('page');
function addText(className, text, left, top) {
    var el = document.createElement('div');
    el.className = className;
    el.textContent = text;
    el.style.left = left + 'px';
    el.style.top = top + 'px';
    page.appendChild(el);
}
legendLevels.forEach(function (level, i) {
    var box = document.createElement('div');
    box.className = 'swatch';
    box.style.top = legendTops[i] + 'px';
    box.style.background = colorFor(level);
    page.appendChild(box);
    addText('legendLabel', level + '%', 84, legendTops[i]);
});
cityNames.forEach(function (name, i) {
    addText('city', name + ': ' + cityValues[i] + '%',
        mapChart.scales.x.getPixelForValue(labelX[i]),
        mapChart.scales.y.getPixelForValue(labelY[i]) - 14);
});
</script>
</body>
</html>
